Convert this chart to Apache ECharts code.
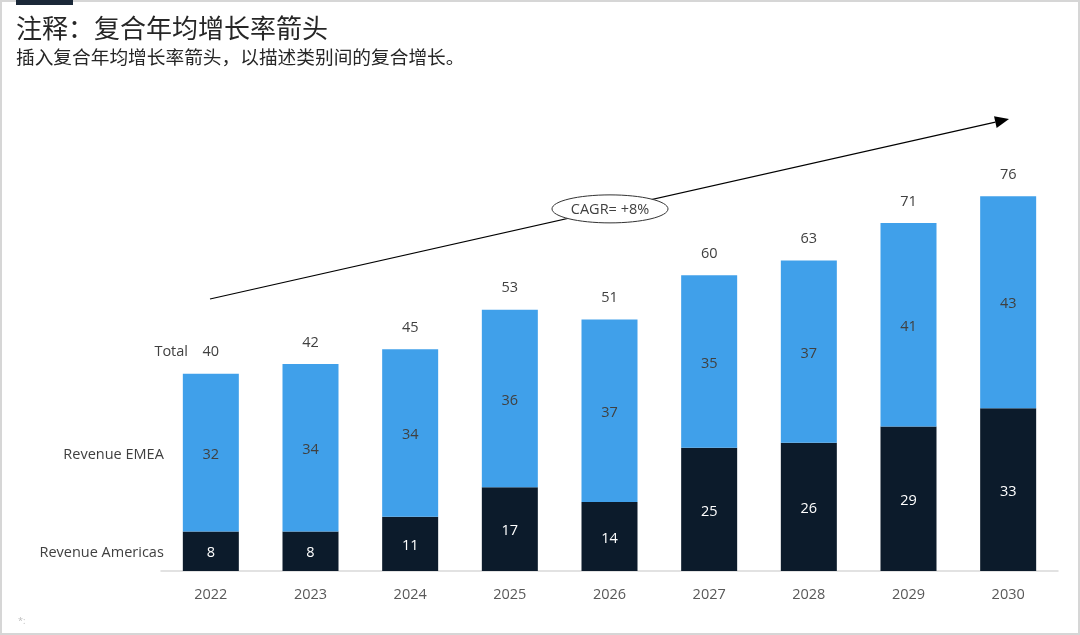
<!DOCTYPE html>
<html>
<head>
<meta charset="utf-8">
<script src="https://cdn.jsdelivr.net/npm/echarts@6/dist/echarts.min.js"></script>
<style>
  html, body { margin: 0; padding: 0; background: #fff; }
  #chart { width: 1080px; height: 635px; }
</style>
</head>
<body>
<div id="chart"></div>
<script>
// 数据
var years = ['2022', '2023', '2024', '2025', '2026', '2027', '2028', '2029', '2030'];
var revenueAmericas = [8, 8, 11, 17, 14, 25, 26, 29.3, 33];
var revenueEmea = [32, 34, 34, 36, 37, 35, 37, 41.3, 43];
var totals = [40, 42, 45, 53, 51, 60, 63, 71, 76];
var cagrText = 'CAGR= +8%';

var FONT = '"Open Sans", "Noto Sans", sans-serif';
var CJK = '"Noto Sans CJK SC", "Noto Sans", sans-serif';
var FS = 14.5;

var chart = echarts.init(document.getElementById('chart'));

chart.setOption({
    animation: false,
    backgroundColor: '#fff',
    grid: { left: 161, right: 22, top: 78, bottom: 64 },
    xAxis: {
        type: 'category',
        data: years,
        axisTick: { show: false },
        axisLine: { lineStyle: { color: '#d9d9d9', width: 1.5 } },
        axisLabel: { color: '#595959', fontSize: FS, fontFamily: FONT, margin: 16 }
    },
    yAxis: {
        type: 'value',
        min: 0,
        max: 100,
        show: false,
        splitLine: { show: false }
    },
    series: [
        {
            name: 'Revenue Americas',
            type: 'bar',
            stack: 'rev',
            barWidth: 56,
            data: revenueAmericas,
            itemStyle: { color: '#0c1b2b' },
            label: {
                show: true, position: 'inside', offset: [0, 2], color: '#fff', fontSize: FS, fontFamily: FONT,
                formatter: function (p) { return Math.round(p.value); }
            }
        },
        {
            name: 'Revenue EMEA',
            type: 'bar',
            stack: 'rev',
            data: revenueEmea,
            itemStyle: { color: '#40a0ea' },
            label: {
                show: true, position: 'inside', offset: [0, 2], color: '#404040', fontSize: FS, fontFamily: FONT,
                formatter: function (p) { return Math.round(p.value); }
            }
        },
        {
            // 总计只显示标签，位置跟随柱顶
            name: 'Total',
            type: 'line',
            data: totals.map(function (t, i) { return revenueAmericas[i] + revenueEmea[i]; }),
            symbol: 'circle',
            symbolSize: 2,
            showSymbol: true,
            itemStyle: { color: 'transparent', borderWidth: 0 },
            lineStyle: { width: 0, color: 'transparent' },
            label: {
                show: true, position: 'top', distance: 13, color: '#404040', fontSize: FS, fontFamily: FONT,
                formatter: function (p) { return totals[p.dataIndex]; }
            },
            z: 5
        }
    ]
});

// 左侧系列名，对齐到第一根柱子
var px = function (v) { return chart.convertToPixel({ gridIndex: 0 }, ['2022', v]); };
var xSide = px(0)[0] - 28 - 19;
var yTotal = px(totals[0])[1] - 22;
var yEmea = px(revenueAmericas[0] + revenueEmea[0] / 2)[1] + 2;
var yAm = px(revenueAmericas[0] / 2)[1] + 2;

function sideLabel(text, x, y) {
    return {
        type: 'text', x: x, y: y,
        style: { text: text, fill: '#404040', font: FS + 'px ' + FONT, textAlign: 'right', textVerticalAlign: 'middle' }
    };
}

// 复合增长箭头
var ax1 = 210, ay1 = 299, ax2 = 1009, ay2 = 119;
var ang = Math.atan2(ay2 - ay1, ax2 - ax1);
var hl = 14, hw = 6;
var bx = ax2 - hl * Math.cos(ang), by = ay2 - hl * Math.sin(ang);
var head = [
    [ax2, ay2],
    [bx + hw * Math.sin(ang), by - hw * Math.cos(ang)],
    [bx - hw * Math.sin(ang), by + hw * Math.cos(ang)]
];
var ecx = 610, ecy = ay1 + (ecx - ax1) * Math.tan(ang);

chart.setOption({
    graphic: [
        { type: 'rect', shape: { x: 1, y: 1, width: 1078, height: 633 }, style: { fill: 'none', stroke: '#d6d6d6', lineWidth: 2 }, silent: true },
        { type: 'rect', shape: { x: 16, y: 0, width: 57, height: 5 }, style: { fill: '#1b2838' } },
        { type: 'text', x: 16, y: 28, style: { text: '注释：复合年均增长率箭头', fill: '#262626', font: '26px ' + CJK, textVerticalAlign: 'middle' } },
        { type: 'text', x: 16, y: 57, style: { text: '插入复合年均增长率箭头，以描述类别间的复合增长。', fill: '#262626', font: '18.7px ' + CJK, textVerticalAlign: 'middle' } },
        sideLabel('Total', 188, yTotal),
        sideLabel('Revenue EMEA', xSide, yEmea),
        sideLabel('Revenue Americas', xSide, yAm),
        { type: 'line', shape: { x1: ax1, y1: ay1, x2: bx, y2: by }, style: { stroke: '#000', lineWidth: 1.2 }, z: 10 },
        { type: 'polygon', shape: { points: head }, style: { fill: '#000' }, z: 10 },
        { type: 'ellipse', shape: { cx: ecx, cy: ecy, rx: 58, ry: 14 }, style: { fill: '#fff', stroke: '#333', lineWidth: 1 }, z: 11 },
        { type: 'text', x: ecx, y: ecy + 1, z: 12, style: { text: cagrText, fill: '#404040', font: FS + 'px ' + FONT, textAlign: 'center', textVerticalAlign: 'middle' } },
        { type: 'text', x: 18, y: 621, style: { text: '*:', fill: '#bbb', font: '9px ' + FONT, textVerticalAlign: 'middle' } }
    ]
});
</script>
</body>
</html>
